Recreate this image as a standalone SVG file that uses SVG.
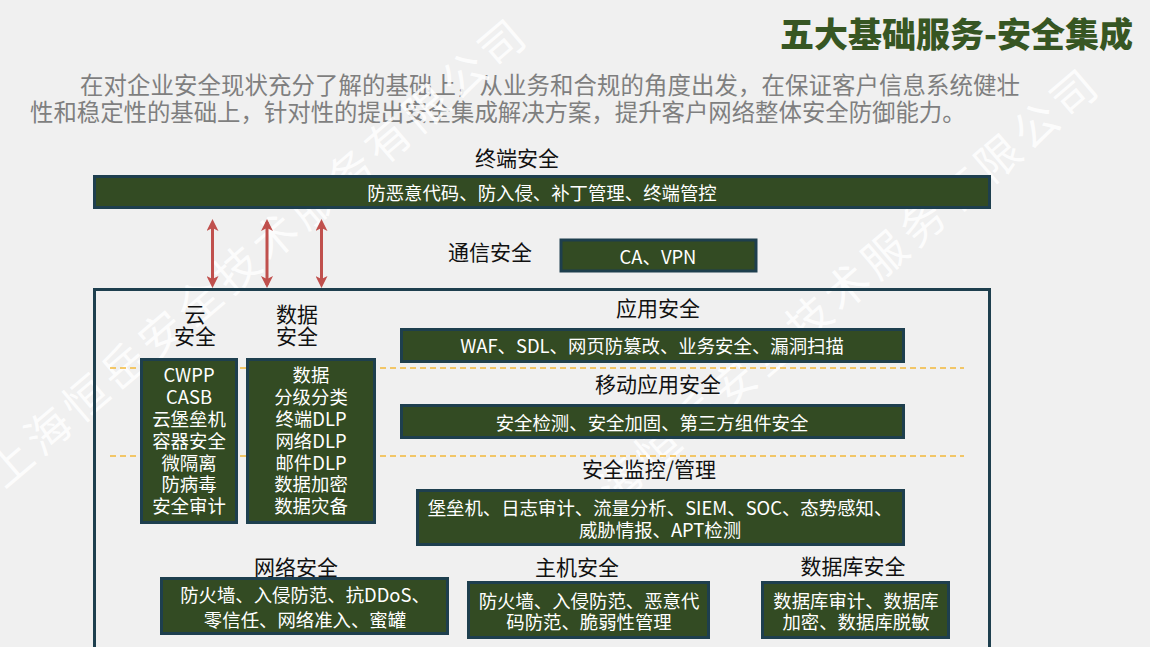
<svg xmlns="http://www.w3.org/2000/svg" width="1150" height="647" viewBox="0 0 1150 647">
<style>
.t{font-family:"Noto Sans CJK SC","Microsoft YaHei","Noto Sans",sans-serif}
.box{fill:#334b23;stroke:#1e3f4e;stroke-width:3}
.bt{font-size:18.4px;fill:#ffffff;text-anchor:middle;dominant-baseline:central}
.lb{font-size:21px;fill:#111111;text-anchor:middle;dominant-baseline:central}
.dash{stroke:#f2b83a;stroke-width:1.3;stroke-dasharray:6 4;fill:none}
.frame{fill:none;stroke:#1e3f4e;stroke-width:3}
.arr{stroke:#c0504d;stroke-width:3;fill:none;marker-start:url(#ah);marker-end:url(#ah)}
.wm{font-size:44px;fill:#ffffff;opacity:.85;text-anchor:middle;dominant-baseline:central}
.para{font-size:23.4px;fill:#7f7f7f;dominant-baseline:central}
</style>
<defs>
<marker id="ah" markerUnits="userSpaceOnUse" markerWidth="12" markerHeight="12" refX="9" refY="6" orient="auto-start-reverse">
<path d="M0,0 L12,6 L0,12 L3,6 z" fill="#c0504d"/>
</marker>
</defs>
<rect class="bg" x="0" y="0" width="1150" height="647" fill="#f0f0f0"/>

<g id="title">
<text class="t" x="1133" y="32" font-size="34" font-weight="900" fill="#375623" text-anchor="end" dominant-baseline="central">五大基础服务-安全集成</text>
</g>
<g id="intro">
<text class="t para" x="80" y="84" textLength="940" lengthAdjust="spacing">在对企业安全现状充分了解的基础上，从业务和合规的角度出发，在保证客户信息系统健壮</text>
<text class="t para" x="30" y="111">性和稳定性的基础上，针对性的提出安全集成解决方案，提升客户网络整体安全防御能力。</text>
</g>

<g id="watermark">
<text class="t wm" transform="translate(254,251) rotate(-40.5)" textLength="690" lengthAdjust="spacing">上海恒岳安全技术服务有限公司</text>
<text class="t wm" transform="translate(826,301) rotate(-40.5)" textLength="690" lengthAdjust="spacing">上海恒岳安全技术服务有限公司</text>
</g>

<g id="frame">
<rect class="frame" x="94.5" y="289.5" width="895" height="420"/>
<line class="dash" x1="110" y1="368" x2="964" y2="368"/>
<line class="dash" x1="110" y1="456" x2="964" y2="456"/>
</g>

<g id="connectors">
<line class="arr" x1="212.5" y1="222" x2="212.5" y2="285"/>
<line class="arr" x1="267" y1="222" x2="267" y2="285"/>
<line class="arr" x1="321.5" y1="222" x2="321.5" y2="285"/>
</g>

<g id="endpoint">
<text class="t lb" x="517" y="157">终端安全</text>
<rect class="box" x="94.5" y="176.5" width="895" height="31"/>
<text class="t bt" x="542" y="192">防恶意代码、防入侵、补丁管理、终端管控</text>
</g>

<g id="comm">
<text class="t lb" x="490" y="251">通信安全</text>
<rect class="box" x="561" y="240" width="195" height="31"/>
<text class="t bt" x="658" y="255.5">CA、VPN</text>
</g>

<g id="cloud">
<text class="t lb" x="195" y="313">云</text>
<text class="t lb" x="195" y="335">安全</text>
<rect class="box" x="141.5" y="359.5" width="95" height="163"/>
<text class="t bt" x="189" y="374">CWPP</text>
<text class="t bt" x="189" y="396">CASB</text>
<text class="t bt" x="189" y="418">云堡垒机</text>
<text class="t bt" x="189" y="440">容器安全</text>
<text class="t bt" x="189" y="462">微隔离</text>
<text class="t bt" x="189" y="483">防病毒</text>
<text class="t bt" x="189" y="505">安全审计</text>
</g>

<g id="data">
<text class="t lb" x="297" y="313">数据</text>
<text class="t lb" x="297" y="335">安全</text>
<rect class="box" x="247.5" y="359.5" width="127" height="163"/>
<text class="t bt" x="311" y="374">数据</text>
<text class="t bt" x="311" y="396">分级分类</text>
<text class="t bt" x="311" y="418">终端DLP</text>
<text class="t bt" x="311" y="440">网络DLP</text>
<text class="t bt" x="311" y="462">邮件DLP</text>
<text class="t bt" x="311" y="483">数据加密</text>
<text class="t bt" x="311" y="505">数据灾备</text>
</g>

<g id="app">
<text class="t lb" x="658" y="307">应用安全</text>
<rect class="box" x="401.5" y="329.5" width="502" height="32"/>
<text class="t bt" x="652" y="345">WAF、SDL、网页防篡改、业务安全、漏洞扫描</text>
</g>

<g id="mobile">
<text class="t lb" x="658" y="383">移动应用安全</text>
<rect class="box" x="401.5" y="405.5" width="502" height="32"/>
<text class="t bt" x="652" y="422">安全检测、安全加固、第三方组件安全</text>
</g>

<g id="monitor">
<text class="t lb" x="649" y="468">安全监控/管理</text>
<rect class="box" x="417.5" y="490.5" width="486" height="54"/>
<text class="t bt" x="660" y="507">堡垒机、日志审计、流量分析、SIEM、SOC、态势感知、</text>
<text class="t bt" x="660" y="529">威胁情报、APT检测</text>
</g>

<g id="network">
<text class="t lb" x="296" y="566">网络安全</text>
<rect class="box" x="161.5" y="578.5" width="286" height="55"/>
<text class="t bt" x="305" y="594">防火墙、入侵防范、抗DDoS、</text>
<text class="t bt" x="305" y="619">零信任、网络准入、蜜罐</text>
</g>

<g id="host">
<text class="t lb" x="577" y="566">主机安全</text>
<rect class="box" x="468.5" y="582.5" width="240" height="55"/>
<text class="t bt" x="589" y="600">防火墙、入侵防范、恶意代</text>
<text class="t bt" x="589" y="621">码防范、脆弱性管理</text>
</g>

<g id="database">
<text class="t lb" x="853" y="565">数据库安全</text>
<rect class="box" x="762.5" y="582.5" width="186" height="55"/>
<text class="t bt" x="856" y="600">数据库审计、数据库</text>
<text class="t bt" x="856" y="621">加密、数据库脱敏</text>
</g>
</svg>
